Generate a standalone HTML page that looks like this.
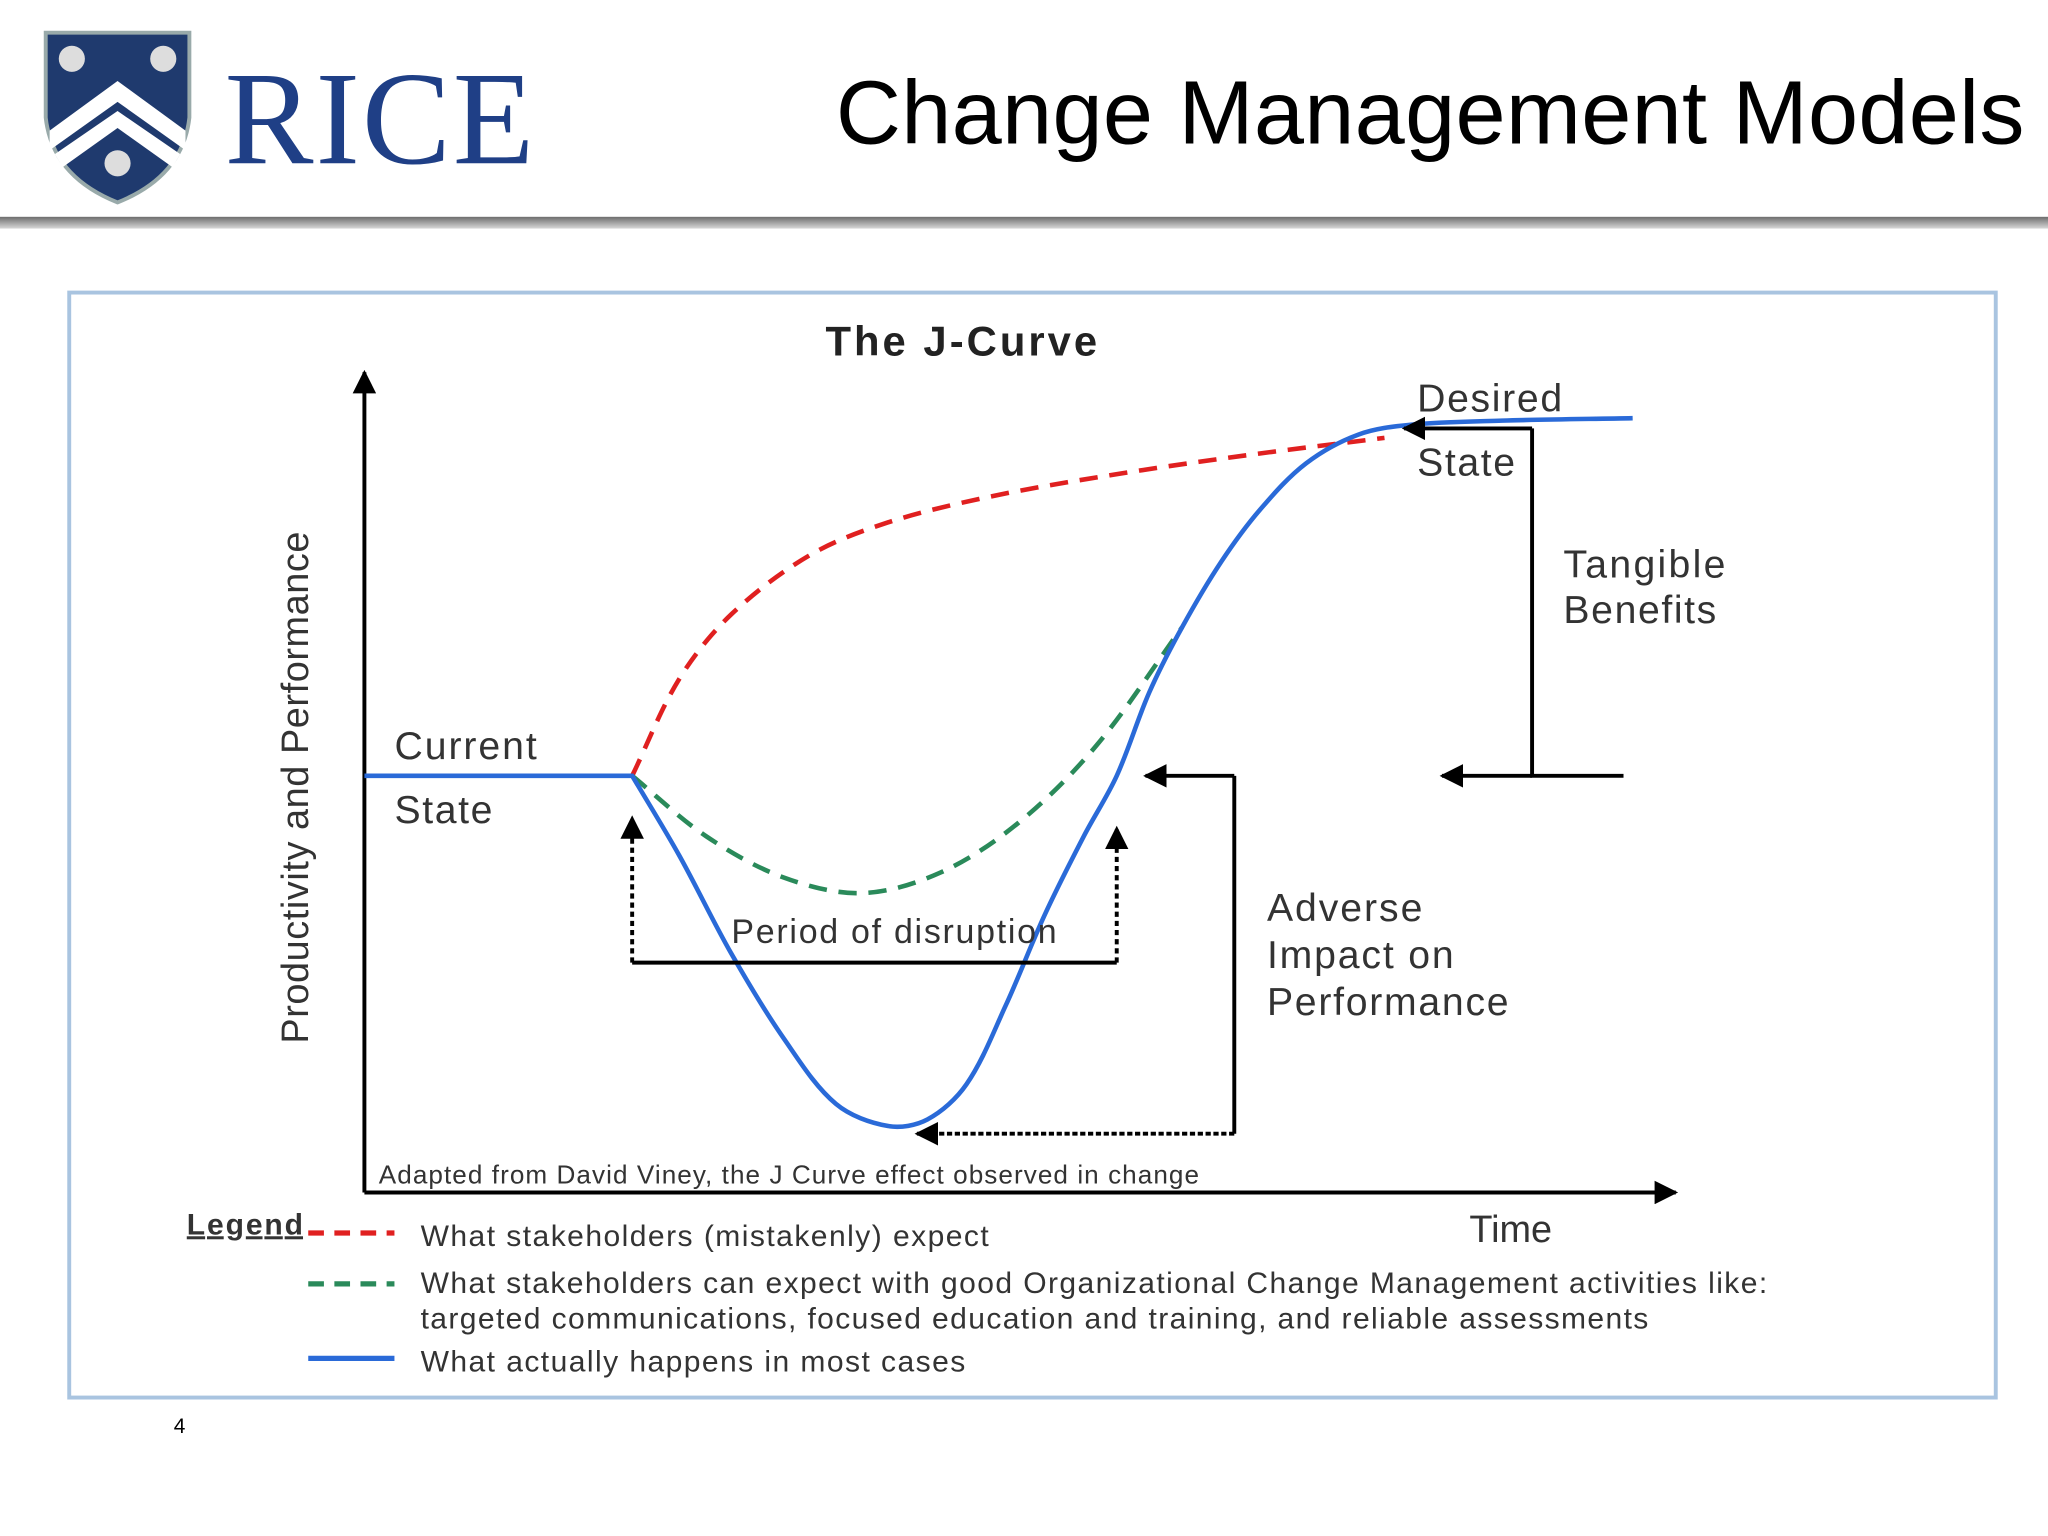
<!DOCTYPE html>
<html><head><meta charset="utf-8"><style>
html,body{margin:0;padding:0;background:#fff;}
svg{display:block;}
</style></head><body>
<svg width="2048" height="1536" viewBox="0 0 1568 1176" xmlns="http://www.w3.org/2000/svg" style="font-family:'Liberation Sans',sans-serif">
<defs>
<linearGradient id="hdr" x1="0" y1="0" x2="0" y2="1"><stop offset="0" stop-color="#6d6d6d"/><stop offset="1" stop-color="#d8d8d8"/></linearGradient>
<marker id="ah" viewBox="0 0 10 10" refX="9" refY="5" markerWidth="6" markerHeight="6" orient="auto-start-reverse"><path d="M0,0 L10,5 L0,10 z" fill="#000"/></marker>
</defs>
<g>
<path d="M35,25 L145,25 L145,90 Q140,135 90,155 Q40,135 35,90 Z" fill="#1f3a6e" stroke="#9aa" stroke-width="3"/>
<path d="M38,100 L90,62 L142,100 L142,115 L90,78 L38,115 Z" fill="#fff"/>
<path d="M42,118 L90,85 L138,118 L132,128 L90,98 L48,128 Z" fill="#fff"/>
<circle cx="55" cy="45" r="10" fill="#ddd"/><circle cx="125" cy="45" r="10" fill="#ddd"/><circle cx="90" cy="125" r="10" fill="#ddd"/>
<text x="172" y="125" style="font-family:'Liberation Serif',serif;font-size:102px" fill="#1f3f86" textLength="237">RICE</text>
</g>
<text x="1550" y="110" text-anchor="end" font-size="69" fill="#000" textLength="910">Change Management Models</text>
<rect x="0" y="166" width="1568" height="9" fill="url(#hdr)"/>
<rect x="53" y="224" width="1475" height="846" fill="#fff" stroke="#a9c4e0" stroke-width="3"/>
<text x="632" y="272" font-size="32" font-weight="bold" fill="#222" textLength="208">The J-Curve</text>
<line x1="279" y1="913" x2="279" y2="285" stroke="#000" stroke-width="3" marker-end="url(#ah)"/>
<line x1="279" y1="913" x2="1283" y2="913" stroke="#000" stroke-width="3" marker-end="url(#ah)"/>
<text transform="translate(236,603) rotate(-90)" text-anchor="middle" font-size="29" fill="#333" textLength="392">Productivity and Performance</text>
<text x="1125" y="951" font-size="29" fill="#333">Time</text>
<g id="series"></g>
<g fill="#333" font-size="30">
<text x="302" y="581" textLength="109">Current</text><text x="302" y="630" textLength="75">State</text>
<text x="1085" y="315" textLength="111">Desired</text><text x="1085" y="364" textLength="75">State</text>
<text x="1197" y="442" textLength="124">Tangible</text><text x="1197" y="477" textLength="117">Benefits</text>
<text x="970" y="705" textLength="119">Adverse</text><text x="970" y="741" textLength="143">Impact on</text><text x="970" y="777" textLength="185">Performance</text>
<text x="560" y="722" font-size="26" textLength="249">Period of disruption</text>
<text x="290" y="906" font-size="20" textLength="628">Adapted from David Viney, the J Curve effect observed in change</text>
</g>
<g fill="none" stroke="#000" stroke-width="3">
<path d="M484,737 L855,737"/>
<path d="M484,737 L484,626" stroke-dasharray="4,3" marker-end="url(#ah)"/>
<path d="M855,737 L855,634" stroke-dasharray="4,3" marker-end="url(#ah)"/>
<path d="M1173,328 L1173,594 L1243,594" />
<path d="M1173,594 L1104,594" marker-end="url(#ah)"/>
<path d="M1173,328 L1075,328" marker-end="url(#ah)"/>
<path d="M945,594 L877,594" marker-end="url(#ah)"/>
<path d="M945,594 L945,868" />
<path d="M945,868 L702,868" stroke-dasharray="4,2" marker-end="url(#ah)"/>
</g>
<g font-size="23" fill="#333">
<text x="143" y="945" font-weight="bold" text-decoration="underline" textLength="89">Legend</text>
<line x1="236" y1="944" x2="302" y2="944" stroke="#e02020" stroke-width="4" stroke-dasharray="12,8"/>
<text x="322" y="954" textLength="435">What stakeholders (mistakenly) expect</text>
<line x1="236" y1="983" x2="302" y2="983" stroke="#2a8a5a" stroke-width="4" stroke-dasharray="12,8"/>
<text x="322" y="990" textLength="1031">What stakeholders can expect with good Organizational Change Management activities like:</text>
<text x="322" y="1017" textLength="940">targeted communications, focused education and training, and reliable assessments</text>
<line x1="236" y1="1040" x2="302" y2="1040" stroke="#2a6ad8" stroke-width="4"/>
<text x="322" y="1050" textLength="417">What actually happens in most cases</text>
</g>
<text x="133" y="1097" font-size="16" fill="#000">4</text>
</svg>
<script>
const blueX=[0,20.5,24.1,28.1,32.1,36.1,40.1,43.1,46.1,49.1,52.1,55.1,57.6,60.1,62.6,65.6,68.6,72.1,76.1,80.1,87.1,97.1];
const blueY=[50.8,50.8,41.1,29.1,18.8,10.8,8.1,8.9,13.2,22.8,33.9,43.5,50.8,61.0,68.9,76.9,83.3,88.9,92.4,93.6,94.1,94.4];
const redX=[20.5,24.1,28.1,34.1,40.1,48.1,58.1,68.1,78.1];
const redY=[50.8,62.6,70.5,77.7,81.7,84.9,87.7,90.0,92.0];
const greenX=[20.5,26.1,32.1,38.1,44.1,50.1,56.1,62.6];
const greenY=[50.8,43.5,38.4,36.5,39.0,45.1,54.6,68.9];
function xs(v){return 279+v*10;}
function ys(v){return 913-v*6.28;}
function dist(a,b){return Math.hypot(a[0]-b[0],a[1]-b[1])||1;}
function smooth(p){
  let d='M'+p[0][0]+','+p[0][1];
  for(let i=0;i<p.length-1;i++){
    const p0=p[i-1]||p[i],p1=p[i],p2=p[i+1],p3=p[i+2]||p2;
    const d0=i>0?dist(p0,p1):0,d1=dist(p1,p2),d2=i+2<p.length?dist(p2,p3):0;
    const k1=d1/(3*(d0+d1)),k2=d1/(3*(d1+d2));
    const c1=[p1[0]+(p2[0]-p0[0])*k1,p1[1]+(p2[1]-p0[1])*k1];
    const c2=[p2[0]-(p3[0]-p1[0])*k2,p2[1]-(p3[1]-p1[1])*k2];
    d+=' C'+c1[0]+','+c1[1]+' '+c2[0]+','+c2[1]+' '+p2[0]+','+p2[1];
  }
  return d;
}
function pathFor(X,Y,flatStart){
  const p=X.map((x,i)=>[xs(x),ys(Y[i])]);
  if(flatStart){
    return 'M'+p[0][0]+','+p[0][1]+' L'+p[1][0]+','+p[1][1]+' '+smooth(p.slice(1)).replace(/^M[^C]*/,'');
  }
  return smooth(p);
}
const g=document.getElementById('series');
function add(X,Y,color,dash,name,flat){
  const el=document.createElementNS('http://www.w3.org/2000/svg','path');
  el.setAttribute('d',pathFor(X,Y,flat));
  el.setAttribute('fill','none');
  el.setAttribute('stroke',color);
  el.setAttribute('stroke-width','3.5');
  if(dash)el.setAttribute('stroke-dasharray',dash);
  
  
  g.appendChild(el);
}
add(redX,redY,'#e02020','14,9','expected-curve-red',false);
add(greenX,greenY,'#2a8a5a','14,9','ocm-curve-green',false);
add(blueX,blueY,'#2a6ad8',null,'actual-curve-blue',true);
</script>
</body></html>
